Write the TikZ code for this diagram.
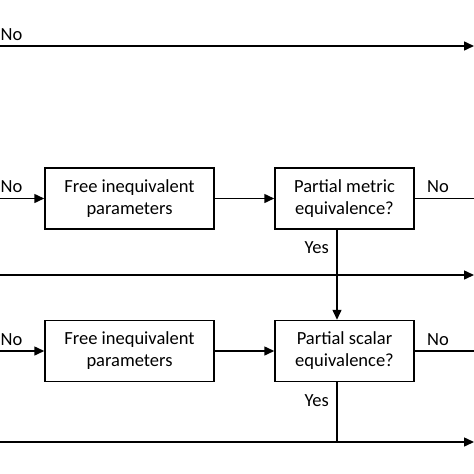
\documentclass[tikz,border=0pt]{standalone}
\usepackage{fontspec}
\setmainfont{Carlito}
\usepackage{tikz}
\usetikzlibrary{positioning,arrows.meta,calc}
\def\BoxLeftW{169pt}
\def\BoxRightW{139pt}
\def\BoxH{61pt}
\tikzset{
  stepbox/.style={draw,line width=1.5pt,minimum height=\BoxH,align=center,inner sep=0pt},
  flow/.style={line width=1.5pt,-{Triangle[length=10pt,width=9pt]}},
  link/.style={line width=1.5pt},
  lbl/.style={inner sep=0pt}
}
\begin{document}
\begin{tikzpicture}[x=1pt,y=-1pt,font=\fontsize{18.5pt}{22pt}\selectfont]
	\useasboundingbox (0,0) rectangle (474,474);
	% first row
	\node[stepbox,minimum width=\BoxLeftW] (free1) at (129.5,198.5) {Free inequivalent\\parameters};
	\node[stepbox,minimum width=\BoxRightW] (metric) at (344.5,198.5) {Partial metric\\equivalence?};
	% second row
	\node[stepbox,minimum width=\BoxLeftW] (free2) at (129.5,351) {Free inequivalent\\parameters};
	\node[stepbox,minimum width=\BoxRightW] (scalar) at (344.5,351) {Partial scalar\\equivalence?};
	% 
	\coordinate (topL) at (0,46);
	\coordinate (topR) at (474,46);
	\coordinate (inA) at (0,198.5);
	\coordinate (outA) at (474,198.5);
	\coordinate (midL) at (0,275);
	\coordinate (midR) at (474,275);
	\coordinate (inB) at (0,351);
	\coordinate (outB) at (474,351);
	\coordinate (botL) at (0,442);
	\coordinate (botR) at (474,442);
	\coordinate (metricS) at ($(metric.south)+(-7.5,0)$);
	\coordinate (scalarN) at (scalar.north -| metricS);
	\coordinate (scalarS) at (scalar.south -| metricS);
	\coordinate (botX) at (botL -| metricS);
	% labels
	\node[lbl,anchor=south west] (noTop) at (0.5,41) {No};
	\node[lbl,anchor=south west] (noA) at (0.5,193) {No};
	\node[lbl,anchor=south west] (noA2) at (427,193) {No};
	\node[lbl,anchor=south west] (noB) at (0.5,345.5) {No};
	\node[lbl,anchor=south west] (noB2) at (427,345.5) {No};
	\node[lbl,anchor=south east] (yesA) at (329,254) {Yes};
	\node[lbl,anchor=south east] (yesB) at (329,407) {Yes};
	% connectors
	\draw[flow] (topL) -- (topR);
	\draw[flow] (inA) -- (free1.west);
	\draw[flow] (free1) -- (metric);
	\draw[link] (metric.east) -- (outA);
	\draw[flow] (midL) -- (midR);
	\draw[flow] (metricS) -- (scalarN);
	\draw[flow] (inB) -- (free2.west);
	\draw[flow] (free2) -- (scalar);
	\draw[link] (scalar.east) -- (outB);
	\draw[link] (scalarS) -- (botX);
	\draw[flow] (botL) -- (botR);
\end{tikzpicture}
\end{document}
